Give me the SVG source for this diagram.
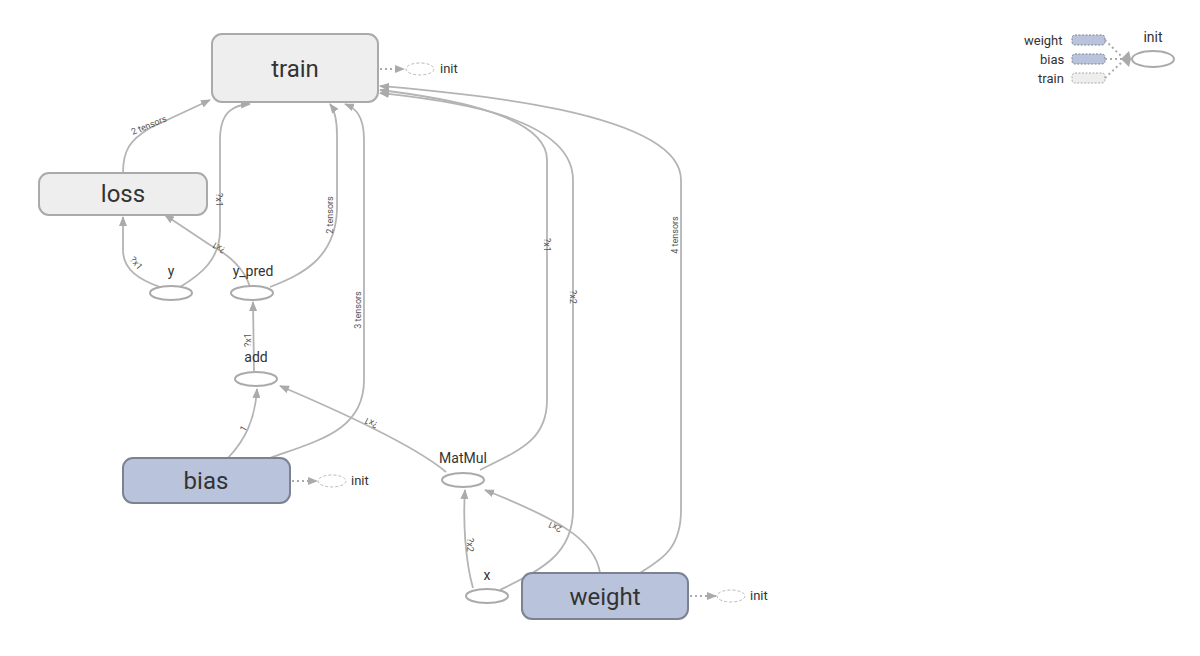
<svg xmlns="http://www.w3.org/2000/svg" width="1200" height="656" viewBox="0 0 1200 656">
<defs>
<marker id="ah" markerWidth="10" markerHeight="8" refX="9" refY="4" orient="auto" markerUnits="userSpaceOnUse"><path d="M0,0 L10,4 L0,8 Z" fill="#aaa"/></marker>
<marker id="ah2" markerWidth="10" markerHeight="8" refX="9" refY="4" orient="auto" markerUnits="userSpaceOnUse"><path d="M0,0 L10,4 L0,8 Z" fill="#aaa"/></marker>
<style>
text{font-family:Roboto,"Liberation Sans",sans-serif;fill:#333}
.op{fill:#eee;stroke:#aaa;stroke-width:2}
.var{fill:#b9c4dc;stroke:#7b8393;stroke-width:2}
.ell{fill:#fff;stroke:#aaa;stroke-width:2}
.big{font-size:24px;text-anchor:middle}
.nm{font-size:14px;text-anchor:middle}
.e{fill:none;stroke:#b4b4b4;stroke-width:1.8;marker-end:url(#ah)}
.d{fill:none;stroke:#aaa;stroke-width:2;stroke-dasharray:2,3;marker-end:url(#ah2)}
.ini{fill:#fff;stroke:#bbb;stroke-width:1;stroke-dasharray:3,2}
.lb{font-size:9px;text-anchor:middle;fill:#555}
.sm{font-size:13px}
</style>
</defs>
<g id="connectors">
<path class="e" d="M123,173 C123,150 130,140 150,128 L210,100"/>
<path class="e" d="M180,287 C200,275 220,260 220,230 L220,140 C220,110 235,105 250,104"/>
<path class="e" d="M270,287 C300,275 335,260 337,210 L337,135 C337,115 333,108 330,104"/>
<path class="e" d="M270,458 C320,440 364,430 364,380 L364,140 C364,115 355,108 345,104"/>
<path class="e" d="M480,470 C520,450 547,440 547,400 L547,160 C547,110 420,95 380,90"/>
<path class="e" d="M500,590 C540,570 573,555 573,510 L573,180 C573,110 420,98 380,93"/>
<path class="e" d="M640,573 C660,560 681,550 681,510 L681,180 C681,110 450,92 380,86"/>
<path class="e" d="M160,287 C140,280 123,270 123,250 L123,217"/>
<path class="e" d="M250,287 C245,270 230,255 210,245 L165,215"/>
<path class="e" d="M254,371 L253,302"/>
<path class="e" d="M228,458 C245,440 255,420 257,389"/>
<path class="e" d="M446,472 C420,450 360,420 280,386"/>
<path class="e" d="M473,588 C465,560 463,520 465,490"/>
<path class="e" d="M600,573 C595,540 560,520 485,490"/>
<path class="d" d="M380,69 L404,69"/>
<path class="d" d="M292,481 L317,481"/>
<path class="d" d="M690,596 L716,596"/>
<text class="lb" transform="translate(150,128) rotate(-22)">2 tensors</text>
<text class="lb" transform="translate(216,200) rotate(90)">?x1</text>
<text class="lb" transform="translate(333,215) rotate(-90)">2 tensors</text>
<text class="lb" transform="translate(361,310) rotate(-90)">3 tensors</text>
<text class="lb" transform="translate(544,245) rotate(90)">?x1</text>
<text class="lb" transform="translate(570,297) rotate(90)">?x2</text>
<text class="lb" transform="translate(678,235) rotate(-90)">4 tensors</text>
<text class="lb" transform="translate(134,265) rotate(50)">?x1</text>
<text class="lb" transform="translate(220,245) rotate(210)">?x1</text>
<text class="lb" transform="translate(251,340) rotate(-90)">?x1</text>
<text class="lb" transform="translate(246,430) rotate(-60)">1</text>
<text class="lb" transform="translate(372,420) rotate(205)">?x1</text>
<text class="lb" transform="translate(467,545) rotate(90)">?x2</text>
<text class="lb" transform="translate(556,524) rotate(205)">2x1</text>
</g>
<g id="train"><rect class="op" x="212" y="34" width="166" height="68" rx="10"/><text class="big" x="295" y="77">train</text></g>
<g id="loss"><rect class="op" x="39" y="173" width="168" height="42" rx="10"/><text class="big" x="123" y="202">loss</text></g>
<g id="bias"><rect class="var" x="123" y="458" width="167" height="45" rx="10"/><text class="big" x="206" y="489">bias</text></g>
<g id="weight"><rect class="var" x="522" y="573" width="166" height="46" rx="10"/><text class="big" x="605" y="605">weight</text></g>
<g id="y"><ellipse class="ell" cx="171" cy="293" rx="21" ry="7"/><text class="nm" x="171" y="276">y</text></g>
<g id="y_pred"><ellipse class="ell" cx="252" cy="293" rx="21" ry="7"/><text class="nm" x="253" y="276">y_pred</text></g>
<g id="add"><ellipse class="ell" cx="256" cy="379" rx="21" ry="7"/><text class="nm" x="256" y="362">add</text></g>
<g id="MatMul"><ellipse class="ell" cx="463" cy="480" rx="21" ry="7"/><text class="nm" x="463" y="463">MatMul</text></g>
<g id="x"><ellipse class="ell" cx="487" cy="596" rx="21" ry="7"/><text class="nm" x="487" y="580">x</text></g>
<g id="init-train"><ellipse class="ini" cx="420" cy="69" rx="14" ry="6"/><text class="sm" x="440" y="73">init</text></g>
<g id="init-bias"><ellipse class="ini" cx="332" cy="481" rx="14" ry="6"/><text class="sm" x="351" y="485">init</text></g>
<g id="init-weight"><ellipse class="ini" cx="731" cy="596" rx="14" ry="6"/><text class="sm" x="750" y="600">init</text></g>
<g id="legend-init">
<text class="sm" x="1024" y="45">weight</text>
<text class="sm" x="1040" y="64">bias</text>
<text class="sm" x="1038" y="83">train</text>
<rect x="1072" y="35" width="33" height="10" rx="3" fill="#b9c4dc" stroke="#7b8393" stroke-dasharray="2,1.5"/>
<rect x="1072" y="54" width="33" height="10" rx="3" fill="#b9c4dc" stroke="#7b8393" stroke-dasharray="2,1.5"/>
<rect x="1072" y="73" width="33" height="10" rx="3" fill="#eee" stroke="#aaa" stroke-dasharray="2,1.5"/>
<path d="M1105,40 L1122,57 M1105,59 L1122,59 M1105,78 L1122,62" stroke="#aaa" stroke-width="2" stroke-dasharray="2,3" fill="none"/>
<path d="M1121,59 L1129,51 L1131,59 L1129,67 Z" fill="#aaa"/>
<ellipse class="ell" cx="1153" cy="59" rx="21" ry="8"/>
<text class="nm" x="1153" y="42">init</text>
</g>
</svg>
